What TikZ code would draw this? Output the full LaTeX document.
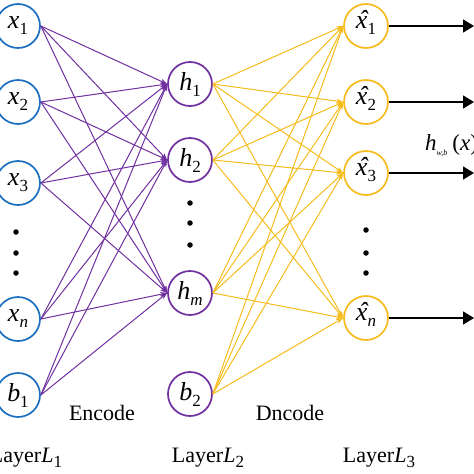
\documentclass[tikz,border=0pt]{standalone}
\usepackage{fontspec}
\setmainfont{Liberation Serif}
\usepackage{xcolor}
\usetikzlibrary{arrows.meta}

\definecolor{inblue}{HTML}{1B6FC0}
\definecolor{hidpurple}{HTML}{7030A0}
\definecolor{outgold}{HTML}{F5BC1C}

% variable with a subscript
\newcommand{\nvar}[2]{\textit{#1}\raisebox{-0.5ex}{\fontsize{17}{18}\selectfont #2}}
% x with a hat
\newcommand{\hx}{\ooalign{\textit{x}\cr\hidewidth\kern0.12em\raisebox{0.02em}{\char"02C6}\hidewidth\cr}}

\begin{document}
\begin{tikzpicture}[
  x=1pt, y=-1pt,
  font=\fontsize{22}{24}\selectfont,
  neuron/.style = {circle, draw, line width=1.7pt, minimum size=44pt,
                   inner sep=0pt, fill=white, font=\fontsize{26}{28}\selectfont},
  inp/.style    = {neuron, draw=inblue},
  hid/.style    = {neuron, draw=hidpurple},
  outp/.style   = {neuron, draw=outgold},
  enc/.style    = {-{Stealth[length=7pt,width=5pt]}, draw=hidpurple, line width=1pt},
  dec/.style    = {-{Stealth[length=7pt,width=5pt]}, draw=outgold, line width=1pt},
  res/.style    = {-{Triangle[length=11pt,width=13pt]}, line width=1.4pt},
  vdot/.style   = {circle, fill=black, inner sep=0pt, minimum size=5.5pt},
  lbl/.style    = {anchor=base, inner sep=0pt},
]
\useasboundingbox (0,0) rectangle (474,474);

% ---------- layer L1 ----------
\node[inp] (x1) at (18,26)  {\nvar{x}{1}};
\node[inp] (x2) at (18,102) {\nvar{x}{2}};
\node[inp] (x3) at (18,183) {\nvar{x}{3}};
\node[inp] (xn) at (18,319) {\nvar{x}{\textit{n}}};
\node[inp] (b1) at (18,395) {\nvar{b}{1}};
\foreach \y [count=\i] in {232,253,273}
  \node[vdot] (da\i) at (16,\y) {};

% ---------- layer L2 ----------
\node[hid] (h1) at (190,84)  {\nvar{h}{1}};
\node[hid] (h2) at (190,160) {\nvar{h}{2}};
\node[hid] (hm) at (190,293) {\nvar{h}{\textit{m}}};
\node[hid] (b2) at (190,394) {\nvar{b}{2}};
\foreach \y [count=\i] in {203,223,245}
  \node[vdot] (db\i) at (190,\y) {};

% ---------- layer L3 ----------
\node[outp] (y1) at (366,26)  {\nvar{\hx}{1}};
\node[outp] (y2) at (366,102) {\nvar{\hx}{2}};
\node[outp] (y3) at (366,173) {\nvar{\hx}{3}};
\node[outp] (yn) at (366,318) {\nvar{\hx}{\textit{n}}};
\foreach \y [count=\i] in {230,253,273}
  \node[vdot] (dc\i) at (366,\y) {};

% ---------- connections ----------
\foreach \s in {x1,x2,x3,xn,b1}
  \foreach \t in {h1,h2,hm}
    \draw[enc] (\s.east) -- (\t.west);
\foreach \s in {h1,h2,hm,b2}
  \foreach \t in {y1,y2,y3,yn}
    \draw[dec] (\s.east) -- (\t.west);

% ---------- outputs ----------
\foreach \t in {y1,y2,y3,yn} {
  \coordinate (e\t) at (474,0 |- \t.east);
  \draw[res] (\t.east) -- (e\t);
}
\node[lbl, anchor=base west, font=\fontsize{23}{25}\selectfont] (hwb) at (425,150)
  {\textit{h}\raisebox{-0.5ex}{\fontsize{8}{9}\selectfont\textit{w,b}}\hspace{5pt}(\textit{x})};

% ---------- labels ----------
\node[lbl] (enctxt) at (102,420) {Encode};
\node[lbl] (dectxt) at (290,420) {Dncode};
\node[lbl] (l1) at (26,462)  {Layer\nvar{L}{1}};
\node[lbl] (l2) at (208,462) {Layer\nvar{L}{2}};
\node[lbl] (l3) at (379,462) {Layer\nvar{L}{3}};
\end{tikzpicture}
\end{document}
